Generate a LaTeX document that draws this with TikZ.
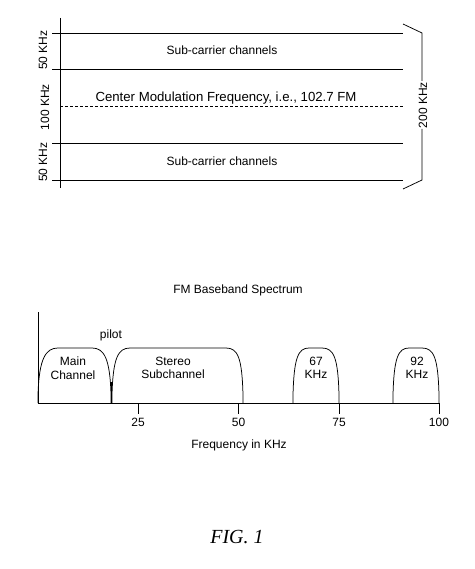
\documentclass[tikz,border=0pt]{standalone}
\usepackage{fontspec}
\setmainfont{Liberation Sans}
\newfontfamily\figfont{Liberation Serif}
\begin{document}
\begin{tikzpicture}[x=1pt,y=-1pt,
  line/.style={line width=0.75pt},
  lbl/.style={inner sep=0pt,font=\fontsize{12}{13.5}\selectfont},
  rlbl/.style={lbl,rotate=90}]
\useasboundingbox (0,0) rectangle (474,569);
% top chart
\draw[line] (60,18) -- (60,188);
\foreach \y in {33,69,143,180} \draw[line] (52,\y) -- (403,\y);
\draw[line,dash pattern=on 3pt off 2pt] (60,106) -- (403,106);
\node[lbl] (sc1) at (222,50) {Sub-carrier channels};
\node[lbl,font=\fontsize{13.2}{15}\selectfont] (cmf) at (226,98) {Center Modulation Frequency, i.e., 102.7 FM};
\node[lbl] (sc2) at (222,161) {Sub-carrier channels};
\node[rlbl] (l50a) at (43,50) {50 KHz};
\node[rlbl] (l100) at (45,107) {100 KHz};
\node[rlbl] (l50b) at (43,162) {50 KHz};
\node[rlbl] (l200) at (423,105) {200 KHz};
\draw[line] (403,24) -- (422,33) -- (422,81);
\draw[line] (422,129) -- (422,180) -- (403,189);
% bottom chart
\node[lbl] (title) at (238,290) {FM Baseband Spectrum};
\draw[line] (38,312) -- (38,403) -- (439,403);
\foreach \x/\t in {138/25,238.5/50,339/75,439/100} {
  \draw[line] (\x,403) -- (\x,414);
  \node[lbl] at (\x,422) {\t};
}
\node[lbl] (xlab) at (239,445) {Frequency in KHz};
% bumps
\draw[line] (38,403) -- (38,395) .. controls (39,358) and (46,348) .. (58,348) -- (92,348) .. controls (104,348) and (110,358) .. (111,395) -- (111,403);
\draw[line] (112,403) -- (112,395) .. controls (113,358) and (118,348) .. (130,348) -- (226,348) .. controls (238,348) and (242,358) .. (243,395) -- (243,403);
\draw[line] (293,403) -- (293,395) .. controls (294,358) and (298,348) .. (309,348) -- (322,348) .. controls (334,348) and (338,358) .. (339,395) -- (339,403);
\draw[line] (393,403) -- (393,395) .. controls (394,358) and (398,348) .. (409,348) -- (422,348) .. controls (434,348) and (438,358) .. (439,395) -- (439,403);
\draw[line width=1pt] (111.5,382) -- (111.5,403);
\node[lbl] (pilot) at (111,335) {pilot};
\node[lbl,align=center] (main) at (73,368) {Main\\Channel};
\node[lbl,align=center] (stereo) at (173,368) {Stereo\\Subchannel};
\node[lbl,align=center] (k67) at (316,368) {67\\KHz};
\node[lbl,align=center] (k92) at (417,368) {92\\KHz};
\node[inner sep=0pt,font=\figfont\itshape\fontsize{20}{24}\selectfont] (fig) at (237,537) {FIG. 1};
\end{tikzpicture}
\end{document}
